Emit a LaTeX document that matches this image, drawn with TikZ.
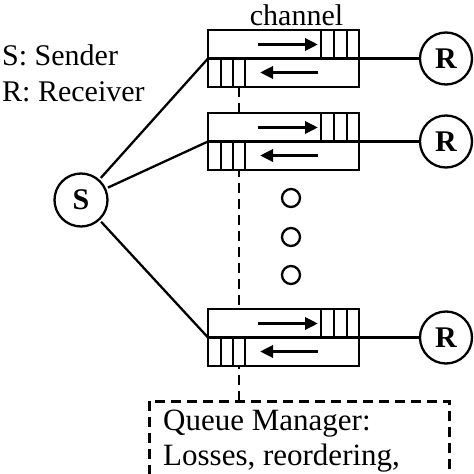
\documentclass[tikz,border=0pt]{standalone}
\usepackage{fontspec}
\setmainfont{Liberation Serif}
\usetikzlibrary{arrows.meta,calc,backgrounds}
\begin{document}
\begin{tikzpicture}[x=1pt,y=-1pt,
  chbox/.style={draw,line width=2.3pt,fill=white,minimum width=151pt,minimum height=57pt,inner sep=0pt,outer sep=0pt},
  thinln/.style={line width=2.3pt},
  flow/.style={line width=3.2pt,-{Triangle[length=13pt,width=12pt]}},
  endpt/.style={circle,draw,line width=2.3pt,minimum size=52pt,inner sep=0pt,font=\fontsize{30}{30}\selectfont\bfseries},
  qdot/.style={circle,draw,line width=2.3pt,minimum size=18pt,inner sep=0pt},
  qdash/.style={line width=2.8pt,dash pattern=on 10pt off 6pt},
  lbl/.style={inner sep=0pt,font=\fontsize{30}{35}\selectfont},
  qlbl/.style={inner sep=0pt,font=\fontsize{31}{35}\selectfont}]
\useasboundingbox (0,0) rectangle (474,474);
\clip (0,0) rectangle (474,474);

\node[lbl,anchor=base west] (legS) at (2,65) {S: Sender};
\node[lbl,anchor=base west] (legR) at (2,101) {R: Receiver};
\node[lbl,anchor=base] (chlbl) at (296.5,25) {channel};

\node[endpt,minimum size=53pt] (S) at (81,200) {S};
\foreach \n/\y in {1/58.5,2/141.5,3/337.5} {
  \node[chbox] (ch\n) at (283.5,\y) {};
  \node[endpt] (R\n) at (446,\y) {R};
  \draw[thinln] (ch\n.west) -- (ch\n.east);
  \draw[thinln] (ch\n.east) -- (R\n);
  \draw[thinln,shorten <=2pt] (S) -- (ch\n.west);
  \foreach \dx in {-38,-25,-12}
    \draw[thinln] ($(ch\n.north east)+(\dx,0)$) -- ($(ch\n.east)+(\dx,0)$);
  \foreach \dx in {13,25,37}
    \draw[thinln] ($(ch\n.west)+(\dx,0)$) -- ($(ch\n.south west)+(\dx,0)$);
  \draw[flow] ($(ch\n.west)+(50,-14)$) -- ($(ch\n.west)+(110,-14)$);
  \draw[flow] ($(ch\n.west)+(110,14)$) -- ($(ch\n.west)+(52,14)$);
}

\foreach \i/\y in {1/198,2/237,3/275}
  \node[qdot] (dot\i) at (291,\y) {};

\node[qdash,draw,anchor=north west,minimum width=300pt,minimum height=120pt,inner sep=0pt] (qm) at (148,400) {};
\node[qlbl,anchor=base west] (qm1) at (163,430) {Queue Manager:};
\node[qlbl,anchor=base west] (qm2) at (163,465) {Losses, reordering,};

\begin{pgfonlayer}{background}
\draw[qdash] ($(ch1.south west)+(31,0)$) -- ($(qm.north west)+(91,0)$);
\end{pgfonlayer}
\end{tikzpicture}
\end{document}
